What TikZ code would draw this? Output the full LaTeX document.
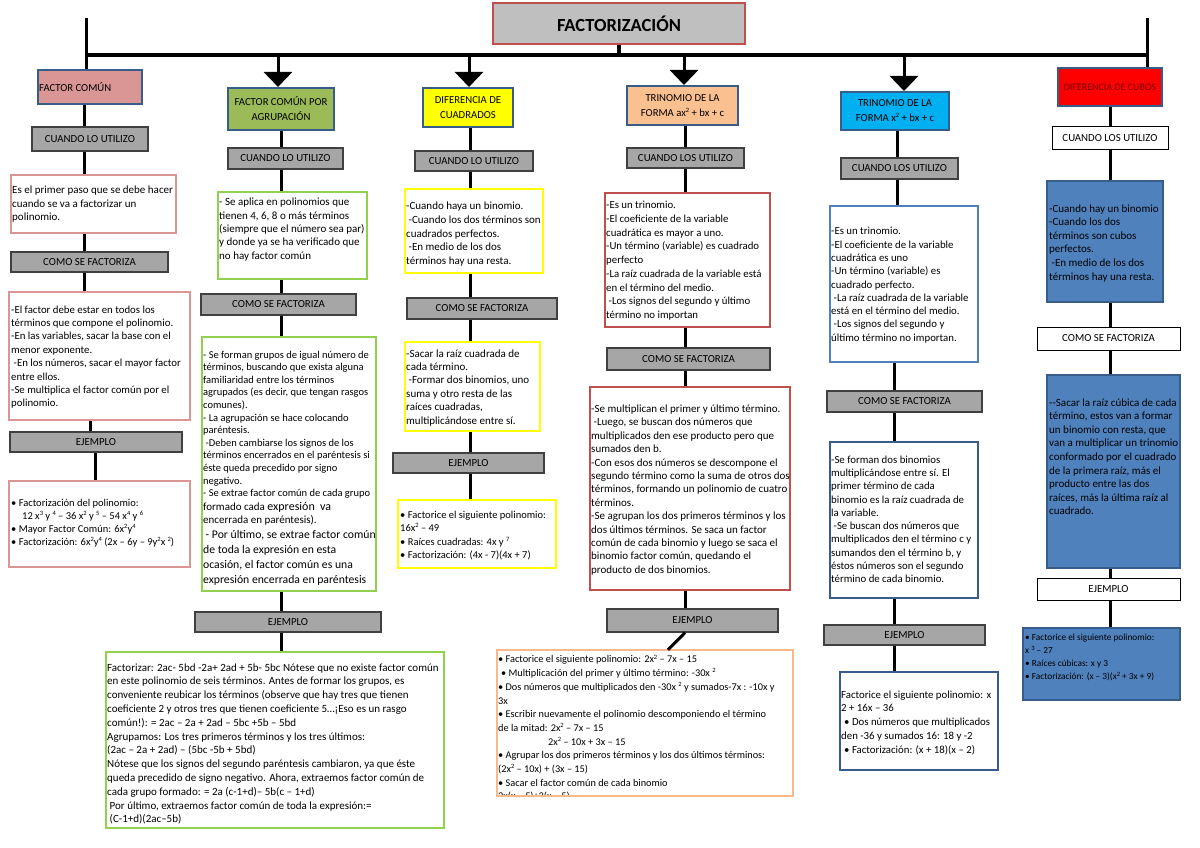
\documentclass[tikz,border=0pt]{standalone}
\usepackage{fontspec}
\setmainfont{Carlito}
\usetikzlibrary{arrows.meta,calc}
\definecolor{ttlfill}{HTML}{BFBFBF}
\definecolor{redb}{HTML}{C0504D}
\definecolor{blueb}{HTML}{385D8A}
\definecolor{grayfill}{HTML}{A6A6A6}
\definecolor{pinkH}{HTML}{D99694}
\definecolor{pinkB}{HTML}{DA9694}
\definecolor{greenH}{HTML}{9BBB59}
\definecolor{greenB}{HTML}{92D050}
\definecolor{yellowH}{HTML}{FFFF00}
\definecolor{orangeH}{HTML}{FAC090}
\definecolor{orangeB}{HTML}{F9B98A}
\definecolor{cyanH}{HTML}{00B0F0}
\definecolor{blueF}{HTML}{4F81BD}
\definecolor{redH}{HTML}{FF0000}
\newcommand{\sps}[1]{\raisebox{0.38em}{\fontsize{6.5}{6.5}\selectfont #1}}
\newcommand{\mybox}[7]{%
  \pgfmathsetmacro\mybw{#5-#3}\pgfmathsetmacro\mybh{#6-#4}%
  \pgfmathsetmacro\mybcx{(#3+#5)/2}\pgfmathsetmacro\mybcy{(#4+#6)/2}%
  \node[#2, minimum width=\mybw pt, minimum height=\mybh pt] (#1) at (\mybcx,\mybcy) {#7};}
\newcommand{\mytext}[6]{%
  \pgfmathsetmacro\mytty{#3-0.63*#4}%
  \node[anchor=north west, align=left, inner sep=0pt, font={\fontsize{#4}{#5}\selectfont}] (#1) at (#2,\mytty) {\rule{0pt}{0.9em}#6};}
\newcommand{\mylink}[3]{\draw[conn] (#1.south -| #3) -- (#2.north -| #3);}
\begin{document}
\begin{tikzpicture}[x=1pt,y=-1pt,
  ttl/.style={draw=redb, fill=ttlfill, line width=2pt, inner sep=0pt, font={\fontsize{18.5}{20}\selectfont\bfseries}},
  hdr/.style={draw=blueb, line width=2pt, inner sep=0pt, align=center, font={\fontsize{10.7}{15}\selectfont}},
  gry/.style={draw=black!75, fill=grayfill, line width=1.2pt, inner sep=0pt, font={\fontsize{10.8}{13}\selectfont}},
  wht/.style={draw=black, fill=white, line width=1pt, inner sep=0pt, font={\fontsize{10.8}{13}\selectfont}},
  tbox/.style={fill=white, line width=2pt, inner sep=0pt},
  bbox/.style={fill=blueF, draw=blueb, line width=1.5pt, inner sep=0pt},
  conn/.style={line width=3pt},
  bar/.style={line width=4pt},
  arr/.style={line width=3pt, -{Triangle[width=28pt,length=15pt]}}]
\fill[white] (0,0) rectangle (1200,848);
\useasboundingbox (0,0) rectangle (1200,848);

% ---------- title ----------
\mybox{title}{ttl}{493}{3}{745}{44}{FACTORIZACIÓN}

% ---------- column 1 ----------
\mybox{h1}{hdr,fill=pinkH}{38}{70}{142}{104}{}
\node[anchor=west, inner sep=0pt, font={\fontsize{10.7}{13}\selectfont}] (th1) at ([xshift=2pt]h1.west) {FACTOR COMÚN};
\mybox{u1}{gry}{32}{127}{148}{151}{CUANDO LO UTILIZO}
\mybox{a1}{tbox,draw=pinkB}{11}{175}{176}{233}{}
\mytext{ta1}{12}{190.7}{11}{13.4}{Es el primer paso que se debe hacer\\cuando se va a factorizar un\\polinomio.}
\mybox{f1}{gry}{11}{252}{168}{272}{COMO SE FACTORIZA}
\mybox{b1}{tbox,draw=pinkB}{9}{292}{190}{420}{}
\mytext{tb1}{11}{310}{10.8}{13.4}{-El factor debe estar en todos los\\términos que compone el polinomio.\\-En las variables, sacar la base con el\\menor exponente.\\\hspace*{2.5pt}-En los números, sacar el mayor factor\\entre ellos.\\-Se multiplica el factor común por el\\polinomio.}
\mybox{e1}{gry}{10}{432}{182}{452}{EJEMPLO}
\mybox{x1}{tbox,draw=pinkB}{9}{481}{190}{567}{}
\mytext{tc1}{11}{503.3}{10.5}{13.2}{• Factorización del polinomio:\\\hspace*{11pt}12 x\sps{3} y \sps{4} – 36 x\sps{2} y \sps{5} – 54 x\sps{4} y \sps{6}\\• Mayor Factor Común: 6x\sps{2}y\sps{4}\\• Factorización: 6x\sps{2}y\sps{4} (2x – 6y – 9y\sps{2}x \sps{2})}

% ---------- column 2 ----------
\mybox{h2}{hdr,fill=greenH}{228}{88}{334}{130}{FACTOR COMÚN POR\\AGRUPACIÓN}
\mybox{u2}{gry}{228}{148}{343}{169}{CUANDO LO UTILIZO}
\mybox{a2}{tbox,draw=greenB}{218}{192}{367}{279}{}
\mytext{ta2}{219}{202.7}{11}{13.3}{- Se aplica en polinomios que\\tienen 4, 6, 8 o más términos\\(siempre que el número sea par)\\y donde ya se ha verificado que\\no hay factor común}
\mybox{f2}{gry}{201}{294}{356}{315}{COMO SE FACTORIZA}
\mybox{b2}{tbox,draw=greenB}{202}{337}{376}{591}{}
\mytext{tb2}{203}{355}{10.5}{12.6}{- Se forman grupos de igual número de\\términos, buscando que exista alguna\\familiaridad entre los términos\\agrupados (es decir, que tengan rasgos\\comunes).\\- La agrupación se hace colocando\\paréntesis.\\\hspace*{2.5pt}-Deben cambiarse los signos de los\\términos encerrados en el paréntesis si\\éste queda precedido por signo\\negativo.\\- Se extrae factor común de cada grupo}
\mytext{tb2b}{203}{507.3}{11}{13.4}{formado cada {\fontsize{12}{13}\selectfont expresión\ \ va}\\encerrada en paréntesis).}
\mytext{tb2c}{203}{535}{11.7}{15}{\hspace*{2.5pt}- Por último, se extrae factor común\\de toda la expresión en esta\\ocasión, el factor común es una\\expresión encerrada en paréntesis}
\mybox{e2}{gry}{195}{612}{381}{632}{EJEMPLO}
\mybox{x2}{tbox,draw=greenB}{106}{652}{444}{828}{}
\mytext{tc2}{107}{668}{11}{13.8}{Factorizar: 2ac- 5bd -2a+ 2ad + 5b- 5bc Nótese que no existe factor común\\en este polinomio de seis términos. Antes de formar los grupos, es\\conveniente reubicar los términos (observe que hay tres que tienen\\coeficiente 2 y otros tres que tienen coeficiente 5…¡Eso es un rasgo\\común!): = 2ac – 2a + 2ad – 5bc +5b – 5bd\\Agrupamos: Los tres primeros términos y los tres últimos:\\(2ac – 2a + 2ad) – (5bc -5b + 5bd)\\Nótese que los signos del segundo paréntesis cambiaron, ya que éste\\queda precedido de signo negativo. Ahora, extraemos factor común de\\cada grupo formado: = 2a (c-1+d)– 5b(c – 1+d)\\\hspace*{2.5pt}Por último, extraemos factor común de toda la expresión:=\\\hspace*{2.5pt}(C-1+d)(2ac–5b)}

% ---------- column 3 ----------
\mybox{h3}{hdr,fill=yellowH}{423}{88}{513}{127}{DIFERENCIA DE\\CUADRADOS}
\mybox{u3}{gry}{415}{151}{533}{171}{CUANDO LO UTILIZO}
\mybox{a3}{tbox,draw=yellowH,line width=2.5pt}{405}{189}{543}{273}{}
\mytext{ta3}{406}{206.7}{11}{13.6}{-Cuando haya un binomio.\\\hspace*{2.5pt}-Cuando los dos términos son\\cuadrados perfectos.\\\hspace*{2.5pt}-En medio de los dos\\términos hay una resta.}
\mybox{f3}{gry}{407}{298}{557}{319}{COMO SE FACTORIZA}
\mybox{b3}{tbox,draw=yellowH,line width=2.5pt}{405}{342}{540}{431}{}
\mytext{tb3}{406}{354}{11}{13.4}{-Sacar la raíz cuadrada de\\cada término.\\\hspace*{2.5pt}-Formar dos binomios, uno\\suma y otro resta de las\\raíces cuadradas,\\multiplicándose entre sí.}
\mybox{e3}{gry}{393}{453}{544}{473}{EJEMPLO}
\mybox{x3}{tbox,draw=yellowH,line width=2.5pt}{398}{500}{556}{568}{}
\mytext{tc3}{400}{515}{10.5}{13.5}{• Factorice el siguiente polinomio:\\16x\sps{2} – 49\\• Raíces cuadradas: 4x y \sps{7}\\• Factorización: (4x - 7)(4x + 7)}

% ---------- column 4 ----------
\mybox{h4}{hdr,fill=orangeH}{627}{86}{738}{125}{TRINOMIO DE LA\\FORMA ax\sps{2} + bx + c}
\mybox{u4}{gry}{627}{148}{744}{168}{CUANDO LOS UTILIZO}
\mybox{a4}{tbox,draw=redb}{605}{193}{770}{327}{}
\mytext{ta4}{606}{205.7}{10.8}{13.7}{-Es un trinomio.\\-El coeficiente de la variable\\cuadrática es mayor a uno.\\-Un término (variable) es cuadrado\\perfecto\\-La raíz cuadrada de la variable está\\en el término del medio.\\\hspace*{2.5pt}-Los signos del segundo y último\\término no importan}
\mybox{f4}{gry}{607}{348}{770}{370}{COMO SE FACTORIZA}
\mybox{b4}{tbox,draw=redb}{590}{387}{790}{590}{}
\mytext{tb4}{591}{409.3}{11}{13.4}{-Se multiplican el primer y último término.\\\hspace*{2.5pt}-Luego, se buscan dos números que\\multiplicados den ese producto pero que\\sumados den b.\\-Con esos dos números se descompone el\\segundo término como la suma de otros dos\\términos, formando un polinomio de cuatro\\términos.\\-Se agrupan los dos primeros términos y los\\dos últimos términos. Se saca un factor\\común de cada binomio y luego se saca el\\binomio factor común, quedando el\\producto de dos binomios.}
\mybox{e4}{gry}{607}{609}{778}{632}{EJEMPLO}
\mybox{x4}{fill=white, inner sep=0pt}{497}{650}{793}{796}{}
\begin{scope}
\clip (x4.north west) rectangle (x4.south east);
\mytext{tc4}{498}{660}{10.3}{13.7}{• Factorice el siguiente polinomio: 2x\sps{2} – 7x – 15\\\hspace*{3pt}• Multiplicación del primer y último término: -30x \sps{2}\\• Dos números que multiplicados den -30x \sps{2} y sumados-7x : -10x y\\3x\\• Escribir nuevamente el polinomio descomponiendo el término\\de la mitad: 2x\sps{2} – 7x – 15\\\hspace*{50pt}2x\sps{2} – 10x + 3x – 15\\• Agrupar los dos primeros términos y los dos últimos términos:\\(2x\sps{2} – 10x) + (3x – 15)\\• Sacar el factor común de cada binomio\\2x(x – 5)+3(x – 5)}
\end{scope}
\draw[draw=orangeB, line width=2pt] (x4.north west) rectangle (x4.south east);

% ---------- column 5 ----------
\mybox{h5}{hdr,fill=cyanH}{841}{92}{949}{130}{TRINOMIO DE LA\\FORMA x\sps{2} + bx + c}
\mybox{u5}{gry}{841}{158}{958}{179}{CUANDO LOS UTILIZO}
\mybox{a5}{tbox,draw=blueF}{830}{206}{978}{362}{}
\mytext{ta5}{831}{231.7}{10.8}{13.3}{-Es un trinomio.\\-El coeficiente de la variable\\cuadrática es uno\\-Un término (variable) es\\cuadrado perfecto.\\\hspace*{2.5pt}-La raíz cuadrada de la variable\\está en el término del medio.\\\hspace*{2.5pt}-Los signos del segundo y\\último término no importan.}
\mybox{f5}{gry}{827}{391}{982}{412}{COMO SE FACTORIZA}
\mybox{b5}{tbox,draw=blueb}{830}{442}{978}{598}{}
\mytext{tb5}{831}{460}{10.8}{13.3}{-Se forman dos binomios\\multiplicándose entre sí. El\\primer término de cada\\binomio es la raíz cuadrada de\\la variable.\\\hspace*{2.5pt}-Se buscan dos números que\\multiplicados den el término c y\\sumandos den el término b, y\\éstos números son el segundo\\término de cada binomio.}
\mybox{e5}{gry}{824}{625}{985}{645}{EJEMPLO}
\mybox{x5}{tbox,draw=blueb}{840}{672}{998}{770}{}
\mytext{tc5}{841}{695}{10.8}{13.8}{Factorice el siguiente polinomio: x\\2 + 16x – 36\\\hspace*{3pt}• Dos números que multiplicados\\den -36 y sumados 16: 18 y -2\\\hspace*{3pt}• Factorización: (x + 18)(x – 2)}

% ---------- column 6 ----------
\mybox{h6}{hdr,fill=redH,text=red!45!black,font={\fontsize{10}{12}\selectfont}}{1058}{68}{1162}{106}{DIFERENCIA DE CUBOS}
\mybox{u6}{wht}{1052}{127}{1168}{150}{CUANDO LOS UTILIZO}
\mybox{a6}{bbox}{1047}{181}{1163}{302}{}
\mytext{ta6}{1049}{209}{11}{13.6}{-Cuando hay un binomio\\-Cuando los dos\\términos son cubos\\perfectos.\\\hspace*{2.5pt}-En medio de los dos\\términos hay una resta.}
\mybox{f6}{wht}{1037}{327}{1180}{350}{COMO SE FACTORIZA}
\mybox{b6}{bbox}{1047}{375}{1180}{568}{}
\mytext{tb6}{1049}{403}{11}{13.6}{-{}-Sacar la raíz cúbica de cada\\término, estos van a formar\\un binomio con resta, que\\van a multiplicar un trinomio\\conformado por el cuadrado\\de la primera raíz, más el\\producto entre las dos\\raíces, más la última raíz al\\cuadrado.}
\mybox{e6}{wht}{1037}{578}{1180}{600}{EJEMPLO}
\mybox{x6}{bbox}{1023}{628}{1180}{700}{}
\mytext{tc6}{1025}{638}{9.3}{13}{• Factorice el siguiente polinomio:\\x \sps{3} – 27\\• Raíces cúbicas: x y 3\\• Factorización: (x – 3)(x\sps{2} + 3x + 9)}

% ---------- trunk ----------
\coordinate (bl) at (86,55);
\coordinate (br) at (1147,55);
\coordinate (t1) at (86,18);
\coordinate (t6) at (1147,18);
\draw[bar] (bl) -- (br);
\draw[bar] (title.south) -- (title.south |- bl);
\draw[conn] (t1) -- (h1.north -| t1);
\draw[conn] (t6) -- (h6.north -| t6);
\coordinate (s2) at (278,55);
\coordinate (s3) at (469,55);
\coordinate (s4) at (684,55);
\coordinate (s5) at (904,55);
\draw[arr] (s2) -- (h2.north -| s2);
\draw[arr] (s3) -- (h3.north -| s3);
\draw[arr] (s4) -- (h4.north -| s4);
\draw[arr] (s5) -- (h5.north -| s5);

% ---------- column connectors ----------
\coordinate (c1) at (84,0);
\coordinate (c1b) at (90,0);
\coordinate (c1c) at (95,0);
\coordinate (c2) at (281,0);
\coordinate (c3) at (470,0);
\coordinate (c4) at (685,0);
\coordinate (c4s) at (668,0);
\coordinate (c5) at (897,0);
\coordinate (c5b) at (894,0);
\coordinate (c6) at (1110,0);

\mylink{h1}{u1}{c1}\mylink{u1}{a1}{c1}\mylink{a1}{f1}{c1}\mylink{f1}{b1}{c1}
\mylink{b1}{e1}{c1b}\mylink{e1}{x1}{c1c}

\mylink{h2}{u2}{c2}\mylink{u2}{a2}{c2}\mylink{a2}{f2}{c2}\mylink{f2}{b2}{c2}
\mylink{b2}{e2}{c2}\mylink{e2}{x2}{c2}

\mylink{h3}{u3}{c3}\mylink{u3}{a3}{c3}\mylink{a3}{f3}{c3}\mylink{f3}{b3}{c3}
\mylink{b3}{e3}{c3}\mylink{e3}{x3}{c3}

\mylink{h4}{u4}{c4}\mylink{u4}{a4}{c4}\mylink{a4}{f4}{c4}\mylink{f4}{b4}{c4}
\mylink{b4}{e4}{c4}
\draw[conn] (e4.south -| c4) -- (x4.north -| c4s);

\mylink{h5}{u5}{c5}\mylink{u5}{a5}{c5}\mylink{a5}{f5}{c5b}\mylink{f5}{b5}{c5b}
\mylink{b5}{e5}{c5b}\mylink{e5}{x5}{c5b}

\mylink{h6}{u6}{c6}\mylink{u6}{a6}{c6}\mylink{a6}{f6}{c6}\mylink{f6}{b6}{c6}
\mylink{b6}{e6}{c6}\mylink{e6}{x6}{c6}
\end{tikzpicture}
\end{document}
